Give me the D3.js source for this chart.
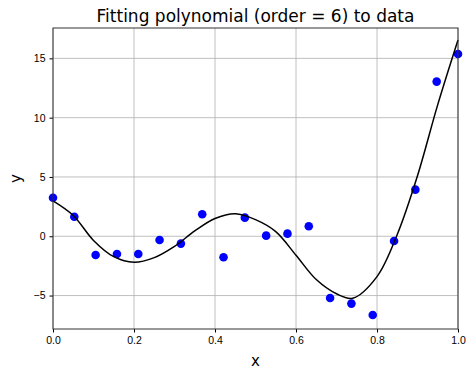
<!DOCTYPE html>
<html>
<head>
<meta charset="utf-8">
<script src="https://cdn.jsdelivr.net/npm/d3@7"></script>
<style>
  body { margin: 0; background: #fff; }
  svg { display: block; font-family: "DejaVu Sans", sans-serif; }
  .grid line { stroke: #b0b0b0; stroke-width: 0.8; }
  .axis path { display: none; }
  .axis line { stroke: #000; }
  .axis text { fill: #000; font-size: 10.5px; }
</style>
</head>
<body>
<div id="chart"></div>
<script>
// observed data (x = i/19)
var pointY = [3.25, 1.65, -1.58, -1.49, -1.49, -0.31, -0.62, 1.85, -1.77, 1.57,
              0.05, 0.22, 0.84, -5.2, -5.68, -6.64, -0.40, 3.93, 13.04, 15.37];
var pointX = pointY.map(function (d, i) { return i / 19; });

// fitted curve
var fitX = [0, 0.05, 0.10, 0.15, 0.20, 0.25, 0.30, 0.35, 0.40, 0.45, 0.50,
            0.55, 0.60, 0.65, 0.70, 0.74, 0.80, 0.85, 0.90, 0.95, 1.0];
var fitY = [2.98, 1.75, -0.35, -1.72, -2.19, -1.8, -0.85, 0.45, 1.5, 1.9, 1.4,
            0.39, -1.6, -3.65, -4.85, -5.22, -3.4, 0.15, 5.1, 11.1, 16.55];

var xTicks = [0, 0.2, 0.4, 0.6, 0.8, 1.0];
var yTicks = [-5, 0, 5, 10, 15];

var W = 474, H = 376;
var margin = { top: 28, right: 16, bottom: 47, left: 53 },
    width = W - margin.left - margin.right,
    height = H - margin.top - margin.bottom;

var svg = d3.select("#chart").append("svg")
    .attr("width", W)
    .attr("height", H);

var g = svg.append("g")
    .attr("transform", "translate(" + margin.left + "," + margin.top + ")");

var x = d3.scaleLinear().domain([0, 1]).range([0, width]);
var y = d3.scaleLinear().domain([-7.82, 17.56]).range([height, 0]);

//grid
g.append("g").attr("class", "grid")
    .selectAll("line").data(xTicks).join("line")
    .attr("x1", function (d) { return x(d); })
    .attr("x2", function (d) { return x(d); })
    .attr("y1", 0).attr("y2", height);
g.append("g").attr("class", "grid")
    .selectAll("line").data(yTicks).join("line")
    .attr("y1", function (d) { return y(d); })
    .attr("y2", function (d) { return y(d); })
    .attr("x1", 0).attr("x2", width);

//axes
var fmtY = function (d) { return d < 0 ? "\u2212" + Math.abs(d) : String(d); };
g.append("g")
    .attr("class", "x axis")
    .attr("transform", "translate(0," + height + ")")
    .call(d3.axisBottom(x).tickValues(xTicks).tickFormat(d3.format(".1f")).tickSizeOuter(0).tickSize(3.5).tickPadding(4));
g.append("g")
    .attr("class", "y axis")
    .call(d3.axisLeft(y).tickValues(yTicks).tickFormat(fmtY).tickSizeOuter(0).tickSize(3.5).tickPadding(4));

//points
g.append("g")
    .selectAll("circle")
    .data(pointY)
    .join("circle")
    .attr("cx", function (d, i) { return x(pointX[i]); })
    .attr("cy", function (d) { return y(d); })
    .attr("r", 4.3)
    .attr("fill", "#0000ff");

//fit line
var line = d3.line()
    .curve(d3.curveCatmullRom.alpha(0.5))
    .x(function (d, i) { return x(fitX[i]); })
    .y(function (d) { return y(d); });

g.append("path")
    .datum(fitY)
    .attr("fill", "none")
    .attr("stroke", "#000")
    .attr("stroke-width", 1.5)
    .attr("d", line);

//frame
g.append("rect")
    .attr("width", width)
    .attr("height", height)
    .attr("fill", "none")
    .attr("stroke", "#333")
    .attr("stroke-width", 1);

//labels
svg.append("text")
    .attr("x", margin.left + width / 2)
    .attr("y", 22)
    .attr("text-anchor", "middle")
    .style("font-size", "17px")
    .text("Fitting polynomial (order = 6) to data");

svg.append("text")
    .attr("x", margin.left + width / 2)
    .attr("y", 366)
    .attr("text-anchor", "middle")
    .style("font-size", "15px")
    .text("x");

svg.append("text")
    .attr("transform", "translate(21," + (margin.top + height / 2) + ") rotate(-90)")
    .attr("text-anchor", "middle")
    .style("font-size", "15px")
    .text("y");
</script>
</body>
</html>
